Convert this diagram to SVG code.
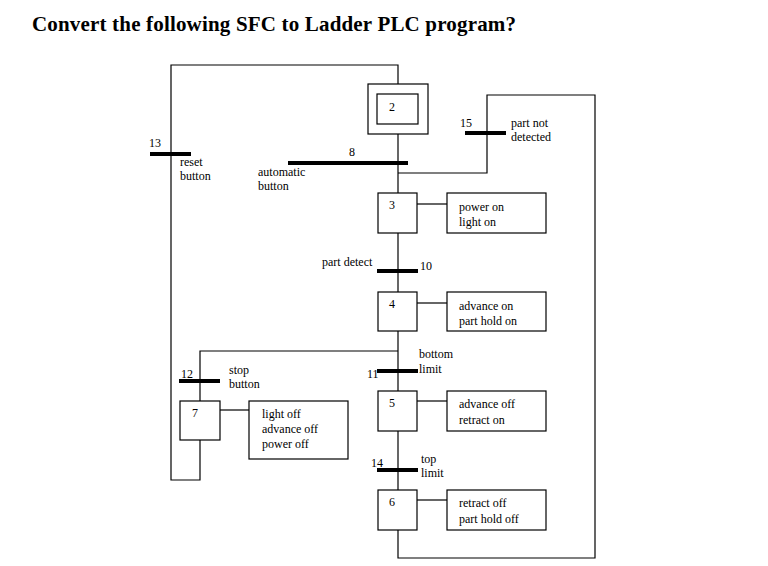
<svg xmlns="http://www.w3.org/2000/svg" width="768" height="566" viewBox="0 0 768 566">
<style>
.l{fill:none;stroke:#000;stroke-width:1.2}
.b{fill:#fff;stroke:#000;stroke-width:1.2}
.t{stroke:#000;stroke-width:4}
text{font-family:"Liberation Serif",serif;font-size:12px;fill:#000}
.h{font-size:21px;font-weight:bold}
</style>
<rect width="768" height="566" fill="#fff"/>
<text class="h" x="32" y="31" textLength="484">Convert the following SFC to Ladder PLC program?</text>
<g id="connectors">
<polyline class="l" points="398,84 398,65 171,65 171,480 200,480 200,440"/>
<polyline class="l" points="200,401 200,351 398,351"/>
<line class="l" x1="398" y1="134" x2="398" y2="490"/>
<polyline class="l" points="398,173 487,173 487,95 595,95 595,558 398,558 398,530"/>
<line class="l" x1="417" y1="204" x2="447" y2="204"/>
<line class="l" x1="417" y1="303" x2="447" y2="303"/>
<line class="l" x1="417" y1="401" x2="447" y2="401"/>
<line class="l" x1="417" y1="500" x2="447" y2="500"/>
<line class="l" x1="220" y1="410" x2="249" y2="410"/>
</g>
<g id="t13"><line class="t" x1="150" y1="154" x2="191" y2="154"/><text x="149" y="147">13</text><text x="180" y="166">reset</text><text x="180" y="180">button</text></g>
<g id="t8"><line class="t" x1="288" y1="163" x2="408" y2="163"/><text x="349" y="156">8</text><text x="258" y="176">automatic</text><text x="258" y="190">button</text></g>
<g id="t15"><line class="t" x1="465" y1="133" x2="506" y2="133"/><text x="460" y="127">15</text><text x="511" y="127">part not</text><text x="511" y="141">detected</text></g>
<g id="t10"><line class="t" x1="377" y1="271" x2="418" y2="271"/><text x="322" y="266">part detect</text><text x="420" y="270">10</text></g>
<g id="t11"><line class="t" x1="377" y1="371" x2="418" y2="371"/><text x="367" y="378">11</text><text x="419" y="358">bottom</text><text x="419" y="373">limit</text></g>
<g id="t14"><line class="t" x1="377" y1="470" x2="418" y2="470"/><text x="371" y="467">14</text><text x="421" y="463">top</text><text x="421" y="477">limit</text></g>
<g id="t12"><line class="t" x1="179" y1="381" x2="220" y2="381"/><text x="181" y="378">12</text><text x="229" y="374">stop</text><text x="229" y="388">button</text></g>
<g id="s2"><rect class="b" x="368" y="84" width="60" height="50"/><rect class="b" x="377" y="94" width="41" height="30"/><text x="389" y="111">2</text></g>
<g id="s3"><rect class="b" x="378" y="193" width="39" height="40"/><text x="389" y="209">3</text></g>
<g id="a3"><rect class="b" x="447" y="193" width="99" height="40"/><text x="459" y="211">power on</text><text x="459" y="226">light on</text></g>
<g id="s4"><rect class="b" x="378" y="292" width="39" height="39"/><text x="389" y="308">4</text></g>
<g id="a4"><rect class="b" x="447" y="292" width="99" height="39"/><text x="459" y="310">advance on</text><text x="459" y="325">part hold on</text></g>
<g id="s5"><rect class="b" x="378" y="391" width="39" height="40"/><text x="389" y="407">5</text></g>
<g id="a5"><rect class="b" x="447" y="391" width="99" height="40"/><text x="459" y="408">advance off</text><text x="459" y="424">retract on</text></g>
<g id="s6"><rect class="b" x="378" y="490" width="39" height="40"/><text x="389" y="506">6</text></g>
<g id="a6"><rect class="b" x="447" y="490" width="99" height="40"/><text x="459" y="507">retract off</text><text x="459" y="523">part hold off</text></g>
<g id="s7"><rect class="b" x="180" y="401" width="40" height="39"/><text x="192" y="417">7</text></g>
<g id="a7"><rect class="b" x="249" y="401" width="99" height="58"/><text x="262" y="418">light off</text><text x="262" y="433">advance off</text><text x="262" y="448">power off</text></g>
</svg>
